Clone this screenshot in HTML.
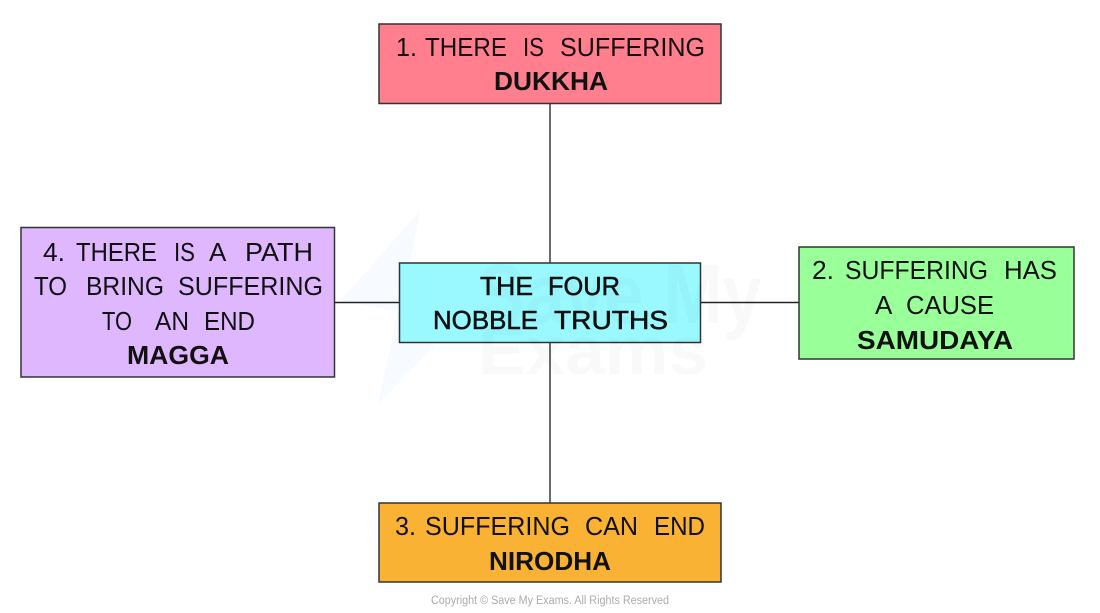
<!DOCTYPE html>
<html>
<head>
<meta charset="utf-8">
<style>
html,body{margin:0;padding:0;background:#fff;width:1100px;height:613px;overflow:hidden}
svg{display:block}
text{font-family:"Liberation Sans",sans-serif;font-size:26px;fill:#111}
.b{font-weight:700}
.m{stroke:#111;stroke-width:.55px}
</style>
</head>
<body>
<svg width="1100" height="613" viewBox="0 0 1100 613" xmlns="http://www.w3.org/2000/svg">
<rect width="1100" height="613" fill="#fff"/>
<polygon points="420,211 341,300 398,312 378,404 440,340 430,300 404,296" fill="#e6eeff" opacity=".3"/>
<g stroke="#3c3c3c" stroke-width="1.5" fill="none">
<line x1="550" y1="103" x2="550" y2="263"/>
<line x1="550" y1="342" x2="550" y2="503"/>
<line x1="334" y1="302.5" x2="400" y2="302.5" stroke="#222"/>
<line x1="700" y1="302.5" x2="799" y2="302.5" stroke="#222"/>
</g>
<g stroke="#333" stroke-width="1.5">
<rect x="379" y="24" width="342" height="79.5" fill="#ff7f8e"/>
<rect x="399.5" y="263" width="301" height="79.5" fill="#99f9ff"/>
<rect x="21" y="227.5" width="313.5" height="149.5" fill="#dfb7ff"/>
<rect x="799" y="247" width="275" height="112" fill="#99ff99"/>
<rect x="379" y="503" width="342" height="79" fill="#f9b233"/>
</g>
<g style="mix-blend-mode:multiply">
<text x="478" y="323" class="b" style="font-size:84px;fill:#000;fill-opacity:.022" textLength="284" lengthAdjust="spacingAndGlyphs">Save My</text>
<text x="478" y="374" class="b" style="font-size:68px;fill:#000;fill-opacity:.022" textLength="230" lengthAdjust="spacingAndGlyphs">Exams</text>
</g>
<text x="396" y="56" textLength="21" lengthAdjust="spacingAndGlyphs">1.</text>
<text x="425" y="56" textLength="82" lengthAdjust="spacingAndGlyphs">THERE</text>
<text x="523" y="56" textLength="21" lengthAdjust="spacingAndGlyphs">IS</text>
<text x="560" y="56" textLength="145" lengthAdjust="spacingAndGlyphs">SUFFERING</text>
<text x="494" y="90" class="b" textLength="114" lengthAdjust="spacingAndGlyphs">DUKKHA</text>
<text x="480" y="295" class="m" textLength="53" lengthAdjust="spacingAndGlyphs">THE</text>
<text x="548" y="295" class="m" textLength="72" lengthAdjust="spacingAndGlyphs">FOUR</text>
<text x="433" y="329" class="m" textLength="105" lengthAdjust="spacingAndGlyphs">NOBBLE</text>
<text x="554" y="329" class="m" textLength="114" lengthAdjust="spacingAndGlyphs">TRUTHS</text>
<text x="43" y="261" textLength="22" lengthAdjust="spacingAndGlyphs">4.</text>
<text x="76" y="261" textLength="81" lengthAdjust="spacingAndGlyphs">THERE</text>
<text x="174" y="261" textLength="21" lengthAdjust="spacingAndGlyphs">IS</text>
<text x="209" y="261">A</text>
<text x="245" y="261" textLength="68" lengthAdjust="spacingAndGlyphs">PATH</text>
<text x="34" y="295" textLength="33" lengthAdjust="spacingAndGlyphs">TO</text>
<text x="86" y="295" textLength="78" lengthAdjust="spacingAndGlyphs">BRING</text>
<text x="178" y="295" textLength="145" lengthAdjust="spacingAndGlyphs">SUFFERING</text>
<text x="102" y="330" textLength="30" lengthAdjust="spacingAndGlyphs">TO</text>
<text x="155" y="330" textLength="34" lengthAdjust="spacingAndGlyphs">AN</text>
<text x="204" y="330" textLength="51" lengthAdjust="spacingAndGlyphs">END</text>
<text x="127" y="364" class="b" textLength="102" lengthAdjust="spacingAndGlyphs">MAGGA</text>
<text x="812" y="279" textLength="22" lengthAdjust="spacingAndGlyphs">2.</text>
<text x="845" y="279" textLength="143" lengthAdjust="spacingAndGlyphs">SUFFERING</text>
<text x="1004" y="279" textLength="53" lengthAdjust="spacingAndGlyphs">HAS</text>
<text x="875" y="314">A</text>
<text x="906" y="314" textLength="88" lengthAdjust="spacingAndGlyphs">CAUSE</text>
<text x="857" y="349" class="b" textLength="156" lengthAdjust="spacingAndGlyphs">SAMUDAYA</text>
<text x="395" y="535" textLength="21" lengthAdjust="spacingAndGlyphs">3.</text>
<text x="425" y="535" textLength="145" lengthAdjust="spacingAndGlyphs">SUFFERING</text>
<text x="585" y="535" textLength="53" lengthAdjust="spacingAndGlyphs">CAN</text>
<text x="654" y="535" textLength="51" lengthAdjust="spacingAndGlyphs">END</text>
<text x="489" y="570" class="b" textLength="122" lengthAdjust="spacingAndGlyphs">NIRODHA</text>
<text x="431" y="604" style="font-size:11.5px;fill:#ababab" textLength="238" lengthAdjust="spacingAndGlyphs">Copyright © Save My Exams. All Rights Reserved</text>
</svg>
</body>
</html>
